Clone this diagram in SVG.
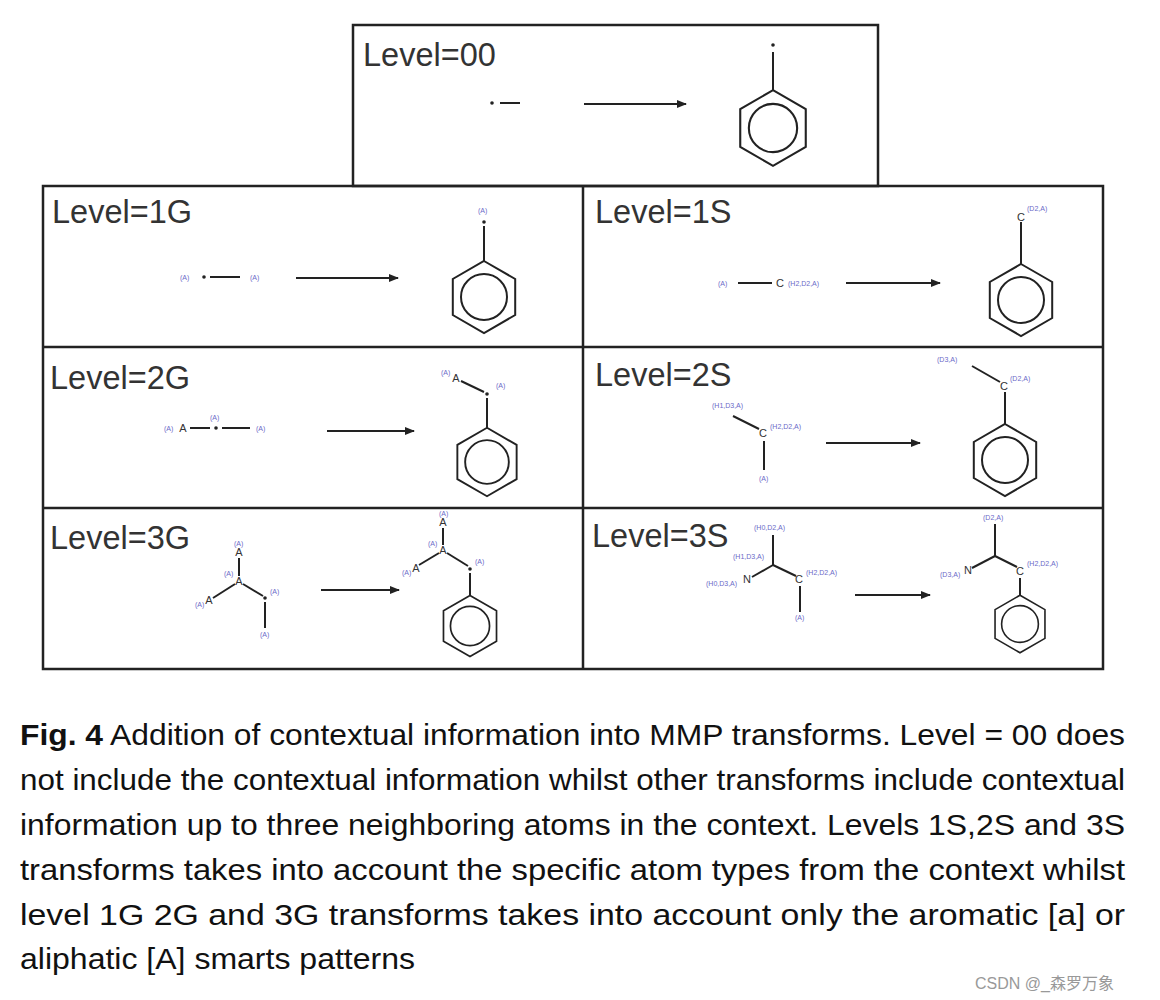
<svg xmlns="http://www.w3.org/2000/svg" width="1160" height="1000" viewBox="0 0 1160 1000">
<style>
.box{fill:none;stroke:#222;stroke-width:2.5}
.lv{font-family:"Liberation Sans",Arial,sans-serif;font-size:32.5px;fill:#333}
.b{stroke:#222;stroke-width:2;fill:none}
.s{font-family:"Liberation Sans",Arial,sans-serif;font-size:7px;fill:#6a6ac8}
.at{font-family:"Liberation Sans",Arial,sans-serif;font-size:11px;fill:#333;text-anchor:middle}
.cap{font-family:"Liberation Sans",Arial,sans-serif;font-size:30px;fill:#111}
.ar{stroke:#222;stroke-width:2;marker-end:url(#ah)}
</style>
<defs>
<marker id="ah" markerWidth="10" markerHeight="8" refX="9" refY="4" orient="auto" markerUnits="userSpaceOnUse"><path d="M0,0 L10,4 L0,8 z" fill="#222"/></marker>
<g id="bz"><polygon class="b" points="0,-36 31.2,-18 31.2,18 0,36 -31.2,18 -31.2,-18"/><circle class="b" r="23"/></g>
</defs>
<rect width="1160" height="1000" fill="#fff"/>
<g id="frames">
<rect class="box" x="353" y="25" width="525" height="161"/>
<rect class="box" x="43" y="186" width="1060" height="483"/>
<line class="box" x1="583" y1="186" x2="583" y2="669"/>
<line class="box" x1="43" y1="347" x2="1103" y2="347"/>
<line class="box" x1="43" y1="508" x2="1103" y2="508"/>
</g>
<g id="connectors">
<line class="ar" x1="584" y1="104" x2="686" y2="104"/>
<line class="ar" x1="296" y1="278" x2="398" y2="278"/>
<line class="ar" x1="846" y1="283" x2="940" y2="283"/>
<line class="ar" x1="327" y1="431" x2="414" y2="431"/>
<line class="ar" x1="826" y1="443" x2="920" y2="443"/>
<line class="ar" x1="321" y1="590" x2="399" y2="590"/>
<line class="ar" x1="855" y1="595" x2="930" y2="595"/>
</g>
<g id="level00">
<text class="lv" x="363" y="66">Level=00</text>
<circle cx="492" cy="103" r="1.8" fill="#222"/><line class="b" x1="500" y1="103" x2="520" y2="103"/>
<use href="#bz" transform="translate(773,128) scale(1.05)"/>
<line class="b" x1="773" y1="90" x2="773" y2="52"/><circle cx="773" cy="45" r="1.8" fill="#222"/>
</g>
<g id="level1G">
<text class="lv" x="52" y="223">Level=1G</text>
<text class="s" x="180" y="280">(A)</text><circle cx="204" cy="277" r="1.8" fill="#222"/>
<line class="b" x1="210" y1="277" x2="240" y2="277"/><text class="s" x="250" y="280">(A)</text>
<use href="#bz" transform="translate(484,297)"/>
<line class="b" x1="484" y1="261" x2="484" y2="226"/><circle cx="484" cy="222" r="1.8" fill="#222"/>
<text class="s" x="478" y="213">(A)</text>
</g>
<g id="level1S">
<text class="lv" x="595" y="223">Level=1S</text>
<text class="s" x="718" y="286">(A)</text><line class="b" x1="738" y1="283" x2="772" y2="283"/>
<text class="at" x="780" y="287">C</text><text class="s" x="788" y="286">(H2,D2,A)</text>
<use href="#bz" transform="translate(1021,300)"/>
<line class="b" x1="1021" y1="264" x2="1021" y2="222"/>
<text class="at" x="1021" y="221">C</text><text class="s" x="1027" y="211">(D2,A)</text>
</g>
<g id="level2G">
<text class="lv" x="50" y="389">Level=2G</text>
<text class="s" x="164" y="431">(A)</text><text class="at" x="183" y="432">A</text>
<line class="b" x1="190" y1="428" x2="210" y2="428"/><circle cx="216" cy="428" r="1.8" fill="#222"/>
<text class="s" x="210" y="420">(A)</text>
<line class="b" x1="222" y1="428" x2="250" y2="428"/><text class="s" x="256" y="431">(A)</text>
<use href="#bz" transform="translate(487,462) scale(0.95)"/>
<line class="b" x1="487" y1="428" x2="487" y2="398"/><circle cx="487" cy="394" r="1.8" fill="#222"/>
<line class="b" x1="461" y1="381" x2="484" y2="392"/>
<text class="at" x="456" y="382">A</text><text class="s" x="441" y="375">(A)</text>
<text class="s" x="496" y="388">(A)</text>
</g>
<g id="level2S">
<text class="lv" x="595" y="386">Level=2S</text>
<text class="s" x="712" y="408">(H1,D3,A)</text>
<line class="b" x1="733" y1="416" x2="759" y2="429"/>
<text class="at" x="763" y="437">C</text><text class="s" x="770" y="429">(H2,D2,A)</text>
<line class="b" x1="764" y1="441" x2="764" y2="470"/><text class="s" x="759" y="481">(A)</text>
<use href="#bz" transform="translate(1005,460)"/>
<line class="b" x1="1005" y1="424" x2="1005" y2="392"/>
<text class="at" x="1004" y="390">C</text><text class="s" x="1010" y="381">(D2,A)</text>
<line class="b" x1="972" y1="366" x2="1000" y2="382"/><text class="s" x="937" y="362">(D3,A)</text>
</g>
<g id="level3G">
<text class="lv" x="50" y="549">Level=3G</text>
<text class="s" x="234" y="546">(A)</text><text class="at" x="239" y="556">A</text>
<line class="b" x1="239" y1="558" x2="239" y2="576"/>
<text class="s" x="224" y="576">(A)</text><text class="at" x="239" y="585">A</text>
<line class="b" x1="235" y1="584" x2="213" y2="598"/><text class="at" x="209" y="604">A</text><text class="s" x="195" y="607">(A)</text>
<line class="b" x1="243" y1="584" x2="263" y2="596"/><circle cx="265" cy="598" r="1.8" fill="#222"/><text class="s" x="270" y="594">(A)</text>
<line class="b" x1="265" y1="602" x2="265" y2="628"/><text class="s" x="260" y="637">(A)</text>
<text class="s" x="439" y="516">(A)</text><text class="at" x="443" y="526">A</text>
<line class="b" x1="443" y1="528" x2="443" y2="545"/>
<text class="s" x="428" y="546">(A)</text><text class="at" x="443" y="554">A</text>
<line class="b" x1="439" y1="553" x2="419" y2="565"/><text class="at" x="416" y="572">A</text><text class="s" x="402" y="575">(A)</text>
<line class="b" x1="447" y1="553" x2="468" y2="566"/><circle cx="470" cy="569" r="1.8" fill="#222"/><text class="s" x="475" y="564">(A)</text>
<line class="b" x1="470" y1="573" x2="470" y2="596"/>
<use href="#bz" transform="translate(470,626) scale(0.85)"/>
</g>
<g id="level3S">
<text class="lv" x="592" y="547">Level=3S</text>
<text class="s" x="754" y="530">(H0,D2,A)</text>
<line class="b" x1="773" y1="535" x2="773" y2="565"/>
<text class="s" x="733" y="559">(H1,D3,A)</text>
<line class="b" x1="773" y1="565" x2="752" y2="577"/>
<text class="at" x="747" y="583">N</text><text class="s" x="706" y="586">(H0,D3,A)</text>
<line class="b" x1="773" y1="565" x2="796" y2="576"/>
<text class="at" x="799" y="583">C</text><text class="s" x="806" y="575">(H2,D2,A)</text>
<line class="b" x1="800" y1="586" x2="800" y2="612"/><text class="s" x="795" y="620">(A)</text>
<text class="s" x="983" y="520">(D2,A)</text>
<line class="b" x1="995" y1="524" x2="995" y2="556"/>
<line class="b" x1="995" y1="556" x2="972" y2="568"/>
<text class="at" x="968" y="574">N</text><text class="s" x="940" y="577">(D3,A)</text>
<line class="b" x1="995" y1="556" x2="1017" y2="567"/>
<text class="at" x="1020" y="575">C</text><text class="s" x="1027" y="566">(H2,D2,A)</text>
<line class="b" x1="1020" y1="578" x2="1020" y2="596"/>
<use href="#bz" transform="translate(1020,624) scale(0.8)"/>
</g>
<g id="caption">
<text class="cap" x="20" y="745" textLength="1105" lengthAdjust="spacingAndGlyphs"><tspan font-weight="bold">Fig. 4</tspan> Addition of contextual information into MMP transforms. Level = 00 does</text>
<text class="cap" x="20" y="790" textLength="1105" lengthAdjust="spacingAndGlyphs">not include the contextual information whilst other transforms include contextual</text>
<text class="cap" x="20" y="835" textLength="1105" lengthAdjust="spacingAndGlyphs">information up to three neighboring atoms in the context. Levels 1S,2S and 3S</text>
<text class="cap" x="20" y="880" textLength="1105" lengthAdjust="spacingAndGlyphs">transforms takes into account the specific atom types from the context whilst</text>
<text class="cap" x="20" y="925" textLength="1105" lengthAdjust="spacingAndGlyphs">level 1G 2G and 3G transforms takes into account only the aromatic [a] or</text>
<text class="cap" x="20" y="969" textLength="395" lengthAdjust="spacingAndGlyphs">aliphatic [A] smarts patterns</text>
<text x="975" y="989" font-family="'Liberation Sans','Noto Sans CJK SC',sans-serif" font-size="16" fill="#999">CSDN @_森罗万象</text>
</g>
</svg>
